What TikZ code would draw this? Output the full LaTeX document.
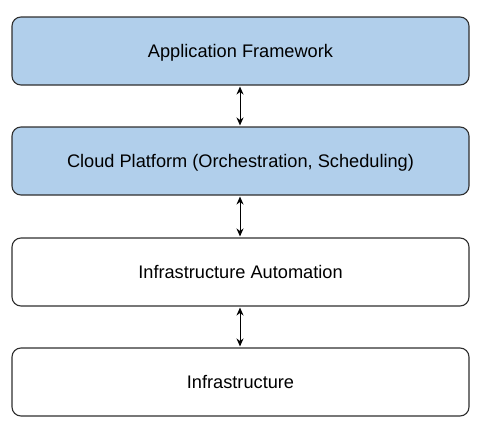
\documentclass[tikz,border=0pt]{standalone}
\usepackage{fontspec}
\setmainfont{Liberation Sans}
\usetikzlibrary{arrows.meta}
\definecolor{boxblue}{HTML}{B1CFEB}
\definecolor{edge}{HTML}{2F2F2F}
\tikzset{
  layer/.style={draw=edge, line width=1.1pt, rounded corners=9pt, minimum width=457pt, minimum height=68pt, inner sep=0pt, text height=13pt, text depth=0pt, font=\fontsize{18.2}{21}\selectfont, text=black},
  link/.style={{Stealth[length=8pt,width=7pt]}-{Stealth[length=8pt,width=7pt]}, line width=1pt, shorten >=1pt, shorten <=1pt}
}
\begin{document}
\begin{tikzpicture}[x=1pt,y=-1pt]
\useasboundingbox (0,0) rectangle (482,434);
\node[layer,fill=boxblue] (app) at (240.5,51) {Application Framework};
\node[layer,fill=boxblue] (cloud) at (240.5,161) {Cloud Platform (Orchestration, Scheduling)};
\node[layer,fill=white] (auto) at (240.5,272) {Infrastructure Automation};
\node[layer,fill=white] (infra) at (240.5,382) {Infrastructure};
\draw[link] (app.south -| 240,0) -- (cloud.north -| 240,0);
\draw[link] (cloud.south -| 240,0) -- (auto.north -| 240,0);
\draw[link] (auto.south -| 240,0) -- (infra.north -| 240,0);
\end{tikzpicture}
\end{document}
